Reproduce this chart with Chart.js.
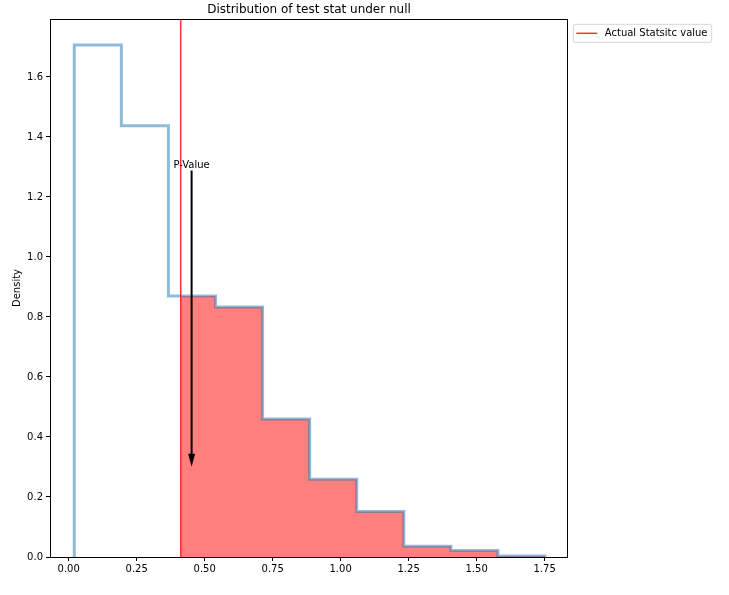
<!DOCTYPE html>
<html>
<head>
<meta charset="utf-8">
<script src="https://cdn.jsdelivr.net/npm/chart.js@4.4.0/dist/chart.umd.min.js"></script>
<style>
  html, body { margin: 0; padding: 0; background: #fff; }
  #wrap { width: 729px; height: 595px; }
</style>
</head>
<body>
<div id="wrap"><canvas id="c" width="729" height="595"></canvas></div>
<script>
// ---- data ----
const binEdges = [0.0206, 0.1937, 0.3668, 0.5399, 0.7130, 0.8861, 1.0592, 1.2323, 1.4054, 1.5785, 1.7516];
const densities = [1.706, 1.437, 0.870, 0.833, 0.460, 0.259, 0.152, 0.036, 0.022, 0.003];
const actualStatistic = 0.412;
const arrowX = 0.452;
const arrowStart = 1.288;
const arrowEnd = 0.301;
const arrowText = "P-Value";
const xTicks = [0.00, 0.25, 0.50, 0.75, 1.00, 1.25, 1.50, 1.75];
const yTicks = [0.0, 0.2, 0.4, 0.6, 0.8, 1.0, 1.2, 1.4, 1.6];
const xRange = [-0.0687, 1.836];
const yRange = [0, 1.793];
const titleText = "Distribution of test stat under null";
const yLabel = "Density";
const legendLabel = "Actual Statsitc value";

// step outline points built from edges/densities
const outline = [{x: binEdges[0], y: 0}];
densities.forEach((d, i) => {
  outline.push({x: binEdges[i], y: d});
  outline.push({x: binEdges[i + 1], y: d});
});
outline.push({x: binEdges[binEdges.length - 1], y: 0});

// shaded region right of actual statistic
const shaded = [];
densities.forEach((d, i) => {
  const lo = binEdges[i], hi = binEdges[i + 1];
  if (hi <= actualStatistic) return;
  shaded.push({x: Math.max(lo, actualStatistic), y: d});
  shaded.push({x: hi, y: d});
});

const FONT = "'DejaVu Sans', sans-serif";

const framePlugin = {
  id: 'frame',
  afterDraw(chart) {
    const {ctx, chartArea: a, scales} = chart;
    ctx.save();
    ctx.strokeStyle = '#000';
    ctx.lineWidth = 1;
    ctx.strokeRect(Math.round(a.left) + 0.5, Math.round(a.top) + 0.5,
                   Math.round(a.right - a.left) - 1, Math.round(a.bottom - a.top));
    // arrow annotation
    const x = scales.x.getPixelForValue(arrowX);
    const y0 = scales.y.getPixelForValue(arrowStart);
    const y1 = scales.y.getPixelForValue(arrowEnd);
    const headLen = 13, headHalf = 3.5;
    ctx.strokeStyle = '#000';
    ctx.fillStyle = '#000';
    ctx.lineWidth = 2;
    ctx.beginPath();
    ctx.moveTo(x, y0);
    ctx.lineTo(x, y1 - headLen + 1);
    ctx.stroke();
    ctx.beginPath();
    ctx.moveTo(x - headHalf, y1 - headLen);
    ctx.lineTo(x + headHalf, y1 - headLen);
    ctx.lineTo(x, y1);
    ctx.closePath();
    ctx.fill();
    ctx.font = "10px " + FONT;
    ctx.textAlign = 'center';
    ctx.textBaseline = 'bottom';
    ctx.fillText(arrowText, x, y0 - 0.5);
    // legend
    const lx = a.right + 5.3, ly = a.top + 5.3, lw = 138.4, lh = 18;
    ctx.fillStyle = 'rgba(255,255,255,0.8)';
    ctx.strokeStyle = 'rgba(204,204,204,0.8)';
    ctx.lineWidth = 1;
    ctx.beginPath();
    if (ctx.roundRect) ctx.roundRect(lx, ly, lw, lh, 2); else ctx.rect(lx, ly, lw, lh);
    ctx.fill();
    ctx.stroke();
    const ds = chart.data.datasets.find(d => d.label);
    ctx.strokeStyle = ds.borderColor;
    ctx.lineWidth = ds.borderWidth;
    ctx.beginPath();
    ctx.moveTo(lx + 3, ly + 9);
    ctx.lineTo(lx + 24, ly + 9);
    ctx.stroke();
    ctx.fillStyle = '#000';
    ctx.textAlign = 'left';
    ctx.textBaseline = 'middle';
    ctx.font = "10px " + FONT;
    ctx.fillText(ds.label, lx + 31.5, ly + 9.5);
    ctx.restore();
  }
};

new Chart(document.getElementById('c'), {
  type: 'line',
  data: {
    datasets: [
      {
        label: legendLabel,
        data: [{x: actualStatistic, y: yRange[0]}, {x: actualStatistic, y: yRange[1]}],
        borderColor: 'rgba(255,0,0,0.8)',
        borderWidth: 1.5,
        pointRadius: 0,
        fill: false
      },
      {
        label: '',
        data: outline,
        borderColor: 'rgba(31,119,180,0.5)',
        borderWidth: 3,
        pointRadius: 0,
        fill: false,
        borderJoinStyle: 'miter'
      },
      {
        label: '',
        data: shaded,
        borderWidth: 0,
        borderColor: 'rgba(0,0,0,0)',
        backgroundColor: 'rgba(255,0,0,0.5)',
        pointRadius: 0,
        fill: 'origin'
      }
    ]
  },
  options: {
    responsive: false,
    animation: false,
    devicePixelRatio: 1,
    layout: { padding: { left: 0, right: 161, top: 0, bottom: 0 } },
    plugins: {
      legend: { display: false },
      tooltip: { enabled: false },
      title: {
        display: true,
        text: titleText,
        fullSize: false,
        color: '#000',
        font: { family: FONT, size: 12, weight: 'normal', lineHeight: 1.25 },
        padding: { top: 2, bottom: 2 }
      }
    },
    scales: {
      x: {
        type: 'linear',
        min: xRange[0],
        max: xRange[1],
        afterBuildTicks: s => { s.ticks = xTicks.map(v => ({value: v})); },
        afterFit: s => { s.height = 38; },
        grid: { drawOnChartArea: false, drawTicks: true, tickLength: 4, color: '#000' },
        border: { display: false },
        ticks: {
          color: '#000',
          padding: 2,
          maxRotation: 0,
          font: { family: FONT, size: 10 },
          callback: v => v.toFixed(2)
        }
      },
      y: {
        type: 'linear',
        min: yRange[0],
        max: yRange[1],
        afterBuildTicks: s => { s.ticks = yTicks.map(v => ({value: v})); },
        afterFit: s => { s.width = 50; },
        grid: { drawOnChartArea: false, drawTicks: true, tickLength: 4, color: '#000' },
        border: { display: false },
        title: {
          display: true,
          text: yLabel,
          color: '#000',
          font: { family: FONT, size: 10 },
          padding: { top: 11.5, bottom: 0 }
        },
        ticks: {
          color: '#000',
          padding: 3,
          font: { family: FONT, size: 10 },
          callback: v => v.toFixed(1)
        }
      }
    }
  },
  plugins: [framePlugin]
});
</script>
</body>
</html>
